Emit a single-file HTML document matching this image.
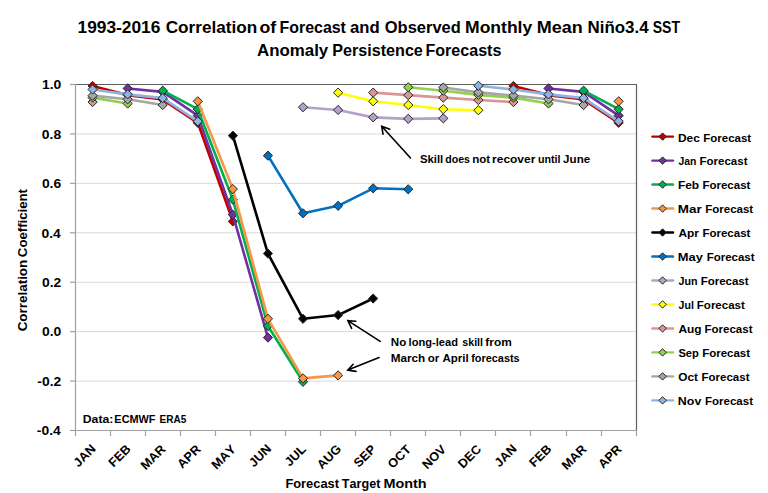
<!DOCTYPE html>
<html><head><meta charset="utf-8"><style>
html,body{margin:0;padding:0;background:#fff;}
svg{display:block;}
text{font-family:"Liberation Sans",sans-serif;font-weight:bold;font-kerning:none;white-space:pre;stroke:none;}
</style></head><body>
<svg width="768" height="493" viewBox="0 0 768 493">
<rect x="0" y="0" width="768" height="493" fill="#fff"/>
<line x1="75.5" y1="133.92857142857142" x2="636.5" y2="133.92857142857142" stroke="#D9D9D9" stroke-width="1"/>
<line x1="75.5" y1="183.35714285714286" x2="636.5" y2="183.35714285714286" stroke="#D9D9D9" stroke-width="1"/>
<line x1="75.5" y1="232.7857142857143" x2="636.5" y2="232.7857142857143" stroke="#D9D9D9" stroke-width="1"/>
<line x1="75.5" y1="282.2142857142857" x2="636.5" y2="282.2142857142857" stroke="#D9D9D9" stroke-width="1"/>
<line x1="75.5" y1="331.64285714285717" x2="636.5" y2="331.64285714285717" stroke="#D9D9D9" stroke-width="1"/>
<line x1="75.5" y1="381.0714285714286" x2="636.5" y2="381.0714285714286" stroke="#D9D9D9" stroke-width="1"/>
<path d="M75.5 84.5H636.5V430.5" fill="none" stroke="#5F5F5F" stroke-width="1.2" stroke-linejoin="round"/>
<line x1="75.5" y1="84.5" x2="75.5" y2="430.5" stroke="#A0A0A0" stroke-width="1.2"/>
<line x1="70.0" y1="430.5" x2="636.5" y2="430.5" stroke="#A0A0A0" stroke-width="1.2"/>
<line x1="70.0" y1="84.5" x2="75.5" y2="84.5" stroke="#A0A0A0" stroke-width="1.2"/>
<line x1="70.0" y1="133.92857142857144" x2="75.5" y2="133.92857142857144" stroke="#A0A0A0" stroke-width="1.2"/>
<line x1="70.0" y1="183.35714285714286" x2="75.5" y2="183.35714285714286" stroke="#A0A0A0" stroke-width="1.2"/>
<line x1="70.0" y1="232.78571428571428" x2="75.5" y2="232.78571428571428" stroke="#A0A0A0" stroke-width="1.2"/>
<line x1="70.0" y1="282.2142857142857" x2="75.5" y2="282.2142857142857" stroke="#A0A0A0" stroke-width="1.2"/>
<line x1="70.0" y1="331.6428571428571" x2="75.5" y2="331.6428571428571" stroke="#A0A0A0" stroke-width="1.2"/>
<line x1="70.0" y1="381.07142857142856" x2="75.5" y2="381.07142857142856" stroke="#A0A0A0" stroke-width="1.2"/>
<line x1="70.0" y1="430.5" x2="75.5" y2="430.5" stroke="#A0A0A0" stroke-width="1.2"/>
<line x1="75.5" y1="430.5" x2="75.5" y2="436.0" stroke="#A0A0A0" stroke-width="1.2"/>
<line x1="110.5" y1="430.5" x2="110.5" y2="436.0" stroke="#A0A0A0" stroke-width="1.2"/>
<line x1="145.5" y1="430.5" x2="145.5" y2="436.0" stroke="#A0A0A0" stroke-width="1.2"/>
<line x1="180.5" y1="430.5" x2="180.5" y2="436.0" stroke="#A0A0A0" stroke-width="1.2"/>
<line x1="215.5" y1="430.5" x2="215.5" y2="436.0" stroke="#A0A0A0" stroke-width="1.2"/>
<line x1="250.5" y1="430.5" x2="250.5" y2="436.0" stroke="#A0A0A0" stroke-width="1.2"/>
<line x1="285.5" y1="430.5" x2="285.5" y2="436.0" stroke="#A0A0A0" stroke-width="1.2"/>
<line x1="320.5" y1="430.5" x2="320.5" y2="436.0" stroke="#A0A0A0" stroke-width="1.2"/>
<line x1="355.5" y1="430.5" x2="355.5" y2="436.0" stroke="#A0A0A0" stroke-width="1.2"/>
<line x1="390.5" y1="430.5" x2="390.5" y2="436.0" stroke="#A0A0A0" stroke-width="1.2"/>
<line x1="425.5" y1="430.5" x2="425.5" y2="436.0" stroke="#A0A0A0" stroke-width="1.2"/>
<line x1="460.5" y1="430.5" x2="460.5" y2="436.0" stroke="#A0A0A0" stroke-width="1.2"/>
<line x1="495.5" y1="430.5" x2="495.5" y2="436.0" stroke="#A0A0A0" stroke-width="1.2"/>
<line x1="530.5" y1="430.5" x2="530.5" y2="436.0" stroke="#A0A0A0" stroke-width="1.2"/>
<line x1="566.5" y1="430.5" x2="566.5" y2="436.0" stroke="#A0A0A0" stroke-width="1.2"/>
<line x1="601.5" y1="430.5" x2="601.5" y2="436.0" stroke="#A0A0A0" stroke-width="1.2"/>
<line x1="636.5" y1="430.5" x2="636.5" y2="436.0" stroke="#A0A0A0" stroke-width="1.2"/>
<polyline points="92.60,85.98 127.67,95.13 162.75,99.58 197.81,122.81 232.88,221.42" fill="none" stroke="#C00000" stroke-width="2.6" stroke-linejoin="round" stroke-linecap="round"/>
<polyline points="513.44,85.98 548.51,95.13 583.59,99.58 618.65,122.81" fill="none" stroke="#C00000" stroke-width="2.6" stroke-linejoin="round" stroke-linecap="round"/>
<path d="M92.60 81.38L97.20 85.98L92.60 90.58L88.00 85.98Z" fill="#C00000" stroke="#262626" stroke-width="1.0"/>
<path d="M127.67 90.53L132.28 95.13L127.67 99.73L123.08 95.13Z" fill="#C00000" stroke="#262626" stroke-width="1.0"/>
<path d="M162.75 94.98L167.34 99.58L162.75 104.18L158.15 99.58Z" fill="#C00000" stroke="#262626" stroke-width="1.0"/>
<path d="M197.81 118.21L202.41 122.81L197.81 127.41L193.22 122.81Z" fill="#C00000" stroke="#262626" stroke-width="1.0"/>
<path d="M232.88 216.82L237.48 221.42L232.88 226.02L228.28 221.42Z" fill="#C00000" stroke="#262626" stroke-width="1.0"/>
<path d="M513.44 81.38L518.04 85.98L513.44 90.58L508.84 85.98Z" fill="#C00000" stroke="#262626" stroke-width="1.0"/>
<path d="M548.51 90.53L553.12 95.13L548.51 99.73L543.91 95.13Z" fill="#C00000" stroke="#262626" stroke-width="1.0"/>
<path d="M583.59 94.98L588.19 99.58L583.59 104.18L578.99 99.58Z" fill="#C00000" stroke="#262626" stroke-width="1.0"/>
<path d="M618.65 118.21L623.25 122.81L618.65 127.41L614.05 122.81Z" fill="#C00000" stroke="#262626" stroke-width="1.0"/>
<polyline points="127.67,88.45 162.75,91.91 197.81,115.64 232.88,214.74 267.95,337.57" fill="none" stroke="#7030A0" stroke-width="2.6" stroke-linejoin="round" stroke-linecap="round"/>
<polyline points="548.51,88.45 583.59,91.91 618.65,115.64" fill="none" stroke="#7030A0" stroke-width="2.6" stroke-linejoin="round" stroke-linecap="round"/>
<path d="M127.67 83.85L132.28 88.45L127.67 93.05L123.08 88.45Z" fill="#7030A0" stroke="#262626" stroke-width="1.0"/>
<path d="M162.75 87.31L167.34 91.91L162.75 96.51L158.15 91.91Z" fill="#7030A0" stroke="#262626" stroke-width="1.0"/>
<path d="M197.81 111.04L202.41 115.64L197.81 120.24L193.22 115.64Z" fill="#7030A0" stroke="#262626" stroke-width="1.0"/>
<path d="M232.88 210.14L237.48 214.74L232.88 219.34L228.28 214.74Z" fill="#7030A0" stroke="#262626" stroke-width="1.0"/>
<path d="M267.95 332.97L272.56 337.57L267.95 342.17L263.35 337.57Z" fill="#7030A0" stroke="#262626" stroke-width="1.0"/>
<path d="M548.51 83.85L553.12 88.45L548.51 93.05L543.91 88.45Z" fill="#7030A0" stroke="#262626" stroke-width="1.0"/>
<path d="M583.59 87.31L588.19 91.91L583.59 96.51L578.99 91.91Z" fill="#7030A0" stroke="#262626" stroke-width="1.0"/>
<path d="M618.65 111.04L623.25 115.64L618.65 120.24L614.05 115.64Z" fill="#7030A0" stroke="#262626" stroke-width="1.0"/>
<polyline points="162.75,90.68 197.81,109.21 232.88,199.67 267.95,325.96 303.02,381.81" fill="none" stroke="#00B050" stroke-width="2.6" stroke-linejoin="round" stroke-linecap="round"/>
<polyline points="583.59,90.68 618.65,109.21" fill="none" stroke="#00B050" stroke-width="2.6" stroke-linejoin="round" stroke-linecap="round"/>
<path d="M162.75 86.08L167.34 90.68L162.75 95.28L158.15 90.68Z" fill="#00B050" stroke="#262626" stroke-width="1.0"/>
<path d="M197.81 104.61L202.41 109.21L197.81 113.81L193.22 109.21Z" fill="#00B050" stroke="#262626" stroke-width="1.0"/>
<path d="M232.88 195.07L237.48 199.67L232.88 204.27L228.28 199.67Z" fill="#00B050" stroke="#262626" stroke-width="1.0"/>
<path d="M267.95 321.36L272.56 325.96L267.95 330.56L263.35 325.96Z" fill="#00B050" stroke="#262626" stroke-width="1.0"/>
<path d="M303.02 377.21L307.62 381.81L303.02 386.41L298.42 381.81Z" fill="#00B050" stroke="#262626" stroke-width="1.0"/>
<path d="M583.59 86.08L588.19 90.68L583.59 95.28L578.99 90.68Z" fill="#00B050" stroke="#262626" stroke-width="1.0"/>
<path d="M618.65 104.61L623.25 109.21L618.65 113.81L614.05 109.21Z" fill="#00B050" stroke="#262626" stroke-width="1.0"/>
<polyline points="197.81,101.31 232.88,189.04 267.95,318.79 303.02,378.35 338.09,375.39" fill="none" stroke="#F79646" stroke-width="2.6" stroke-linejoin="round" stroke-linecap="round"/>
<path d="M197.81 96.71L202.41 101.31L197.81 105.91L193.22 101.31Z" fill="#F79646" stroke="#262626" stroke-width="1.0"/>
<path d="M232.88 184.44L237.48 189.04L232.88 193.64L228.28 189.04Z" fill="#F79646" stroke="#262626" stroke-width="1.0"/>
<path d="M267.95 314.19L272.56 318.79L267.95 323.39L263.35 318.79Z" fill="#F79646" stroke="#262626" stroke-width="1.0"/>
<path d="M303.02 373.75L307.62 378.35L303.02 382.95L298.42 378.35Z" fill="#F79646" stroke="#262626" stroke-width="1.0"/>
<path d="M338.09 370.79L342.69 375.39L338.09 379.99L333.49 375.39Z" fill="#F79646" stroke="#262626" stroke-width="1.0"/>
<path d="M618.65 96.71L623.25 101.31L618.65 105.91L614.05 101.31Z" fill="#F79646" stroke="#262626" stroke-width="1.0"/>
<polyline points="232.88,135.66 267.95,253.55 303.02,318.79 338.09,315.08 373.17,298.53" fill="none" stroke="#000000" stroke-width="2.6" stroke-linejoin="round" stroke-linecap="round"/>
<path d="M232.88 131.06L237.48 135.66L232.88 140.26L228.28 135.66Z" fill="#000000" stroke="#262626" stroke-width="1.0"/>
<path d="M267.95 248.95L272.56 253.55L267.95 258.15L263.35 253.55Z" fill="#000000" stroke="#262626" stroke-width="1.0"/>
<path d="M303.02 314.19L307.62 318.79L303.02 323.39L298.42 318.79Z" fill="#000000" stroke="#262626" stroke-width="1.0"/>
<path d="M338.09 310.48L342.69 315.08L338.09 319.68L333.49 315.08Z" fill="#000000" stroke="#262626" stroke-width="1.0"/>
<path d="M373.17 293.93L377.77 298.53L373.17 303.13L368.56 298.53Z" fill="#000000" stroke="#262626" stroke-width="1.0"/>
<polyline points="267.95,155.68 303.02,213.26 338.09,205.85 373.17,188.30 408.24,189.29" fill="none" stroke="#0070C0" stroke-width="2.6" stroke-linejoin="round" stroke-linecap="round"/>
<path d="M267.95 151.08L272.56 155.68L267.95 160.28L263.35 155.68Z" fill="#0070C0" stroke="#262626" stroke-width="1.0"/>
<path d="M303.02 208.66L307.62 213.26L303.02 217.86L298.42 213.26Z" fill="#0070C0" stroke="#262626" stroke-width="1.0"/>
<path d="M338.09 201.25L342.69 205.85L338.09 210.45L333.49 205.85Z" fill="#0070C0" stroke="#262626" stroke-width="1.0"/>
<path d="M373.17 183.70L377.77 188.30L373.17 192.90L368.56 188.30Z" fill="#0070C0" stroke="#262626" stroke-width="1.0"/>
<path d="M408.24 184.69L412.84 189.29L408.24 193.89L403.63 189.29Z" fill="#0070C0" stroke="#262626" stroke-width="1.0"/>
<polyline points="303.02,107.24 338.09,109.96 373.17,117.37 408.24,118.85 443.31,118.36" fill="none" stroke="#B3A2C7" stroke-width="2.6" stroke-linejoin="round" stroke-linecap="round"/>
<path d="M303.02 102.64L307.62 107.24L303.02 111.84L298.42 107.24Z" fill="#B3A2C7" stroke="#262626" stroke-width="1.0"/>
<path d="M338.09 105.36L342.69 109.96L338.09 114.56L333.49 109.96Z" fill="#B3A2C7" stroke="#262626" stroke-width="1.0"/>
<path d="M373.17 112.77L377.77 117.37L373.17 121.97L368.56 117.37Z" fill="#B3A2C7" stroke="#262626" stroke-width="1.0"/>
<path d="M408.24 114.25L412.84 118.85L408.24 123.45L403.63 118.85Z" fill="#B3A2C7" stroke="#262626" stroke-width="1.0"/>
<path d="M443.31 113.76L447.91 118.36L443.31 122.96L438.70 118.36Z" fill="#B3A2C7" stroke="#262626" stroke-width="1.0"/>
<polyline points="338.09,92.66 373.17,101.31 408.24,105.01 443.31,109.21 478.38,110.20" fill="none" stroke="#FFFF00" stroke-width="2.6" stroke-linejoin="round" stroke-linecap="round"/>
<path d="M338.09 88.06L342.69 92.66L338.09 97.26L333.49 92.66Z" fill="#FFFF00" stroke="#262626" stroke-width="1.0"/>
<path d="M373.17 96.71L377.77 101.31L373.17 105.91L368.56 101.31Z" fill="#FFFF00" stroke="#262626" stroke-width="1.0"/>
<path d="M408.24 100.41L412.84 105.01L408.24 109.61L403.63 105.01Z" fill="#FFFF00" stroke="#262626" stroke-width="1.0"/>
<path d="M443.31 104.61L447.91 109.21L443.31 113.81L438.70 109.21Z" fill="#FFFF00" stroke="#262626" stroke-width="1.0"/>
<path d="M478.38 105.60L482.98 110.20L478.38 114.80L473.77 110.20Z" fill="#FFFF00" stroke="#262626" stroke-width="1.0"/>
<polyline points="373.17,92.66 408.24,95.13 443.31,97.60 478.38,100.07 513.44,102.05" fill="none" stroke="#D99694" stroke-width="2.6" stroke-linejoin="round" stroke-linecap="round"/>
<path d="M373.17 88.06L377.77 92.66L373.17 97.26L368.56 92.66Z" fill="#D99694" stroke="#262626" stroke-width="1.0"/>
<path d="M408.24 90.53L412.84 95.13L408.24 99.73L403.63 95.13Z" fill="#D99694" stroke="#262626" stroke-width="1.0"/>
<path d="M443.31 93.00L447.91 97.60L443.31 102.20L438.70 97.60Z" fill="#D99694" stroke="#262626" stroke-width="1.0"/>
<path d="M478.38 95.47L482.98 100.07L478.38 104.67L473.77 100.07Z" fill="#D99694" stroke="#262626" stroke-width="1.0"/>
<path d="M513.44 97.45L518.04 102.05L513.44 106.65L508.84 102.05Z" fill="#D99694" stroke="#262626" stroke-width="1.0"/>
<path d="M92.60 97.45L97.20 102.05L92.60 106.65L88.00 102.05Z" fill="#D99694" stroke="#262626" stroke-width="1.0"/>
<polyline points="408.24,87.22 443.31,90.68 478.38,94.88 513.44,97.60 548.51,103.53" fill="none" stroke="#92D050" stroke-width="2.6" stroke-linejoin="round" stroke-linecap="round"/>
<polyline points="92.60,97.60 127.67,103.53" fill="none" stroke="#92D050" stroke-width="2.6" stroke-linejoin="round" stroke-linecap="round"/>
<path d="M408.24 82.62L412.84 87.22L408.24 91.82L403.63 87.22Z" fill="#92D050" stroke="#262626" stroke-width="1.0"/>
<path d="M443.31 86.08L447.91 90.68L443.31 95.28L438.70 90.68Z" fill="#92D050" stroke="#262626" stroke-width="1.0"/>
<path d="M478.38 90.28L482.98 94.88L478.38 99.48L473.77 94.88Z" fill="#92D050" stroke="#262626" stroke-width="1.0"/>
<path d="M513.44 93.00L518.04 97.60L513.44 102.20L508.84 97.60Z" fill="#92D050" stroke="#262626" stroke-width="1.0"/>
<path d="M548.51 98.93L553.12 103.53L548.51 108.13L543.91 103.53Z" fill="#92D050" stroke="#262626" stroke-width="1.0"/>
<path d="M92.60 93.00L97.20 97.60L92.60 102.20L88.00 97.60Z" fill="#92D050" stroke="#262626" stroke-width="1.0"/>
<path d="M127.67 98.93L132.28 103.53L127.67 108.13L123.08 103.53Z" fill="#92D050" stroke="#262626" stroke-width="1.0"/>
<polyline points="443.31,87.47 478.38,92.41 513.44,95.62 548.51,99.33 583.59,105.01" fill="none" stroke="#A6A6A6" stroke-width="2.6" stroke-linejoin="round" stroke-linecap="round"/>
<polyline points="92.60,95.62 127.67,99.33 162.75,105.01" fill="none" stroke="#A6A6A6" stroke-width="2.6" stroke-linejoin="round" stroke-linecap="round"/>
<path d="M443.31 82.87L447.91 87.47L443.31 92.07L438.70 87.47Z" fill="#A6A6A6" stroke="#262626" stroke-width="1.0"/>
<path d="M478.38 87.81L482.98 92.41L478.38 97.01L473.77 92.41Z" fill="#A6A6A6" stroke="#262626" stroke-width="1.0"/>
<path d="M513.44 91.02L518.04 95.62L513.44 100.22L508.84 95.62Z" fill="#A6A6A6" stroke="#262626" stroke-width="1.0"/>
<path d="M548.51 94.73L553.12 99.33L548.51 103.93L543.91 99.33Z" fill="#A6A6A6" stroke="#262626" stroke-width="1.0"/>
<path d="M583.59 100.41L588.19 105.01L583.59 109.61L578.99 105.01Z" fill="#A6A6A6" stroke="#262626" stroke-width="1.0"/>
<path d="M92.60 91.02L97.20 95.62L92.60 100.22L88.00 95.62Z" fill="#A6A6A6" stroke="#262626" stroke-width="1.0"/>
<path d="M127.67 94.73L132.28 99.33L127.67 103.93L123.08 99.33Z" fill="#A6A6A6" stroke="#262626" stroke-width="1.0"/>
<path d="M162.75 100.41L167.34 105.01L162.75 109.61L158.15 105.01Z" fill="#A6A6A6" stroke="#262626" stroke-width="1.0"/>
<polyline points="478.38,85.74 513.44,89.44 548.51,94.39 583.59,98.09 618.65,121.32" fill="none" stroke="#8EB4E3" stroke-width="2.6" stroke-linejoin="round" stroke-linecap="round"/>
<polyline points="92.60,89.44 127.67,94.39 162.75,98.09 197.81,121.32" fill="none" stroke="#8EB4E3" stroke-width="2.6" stroke-linejoin="round" stroke-linecap="round"/>
<path d="M478.38 81.14L482.98 85.74L478.38 90.34L473.77 85.74Z" fill="#8EB4E3" stroke="#262626" stroke-width="1.0"/>
<path d="M513.44 84.84L518.04 89.44L513.44 94.04L508.84 89.44Z" fill="#8EB4E3" stroke="#262626" stroke-width="1.0"/>
<path d="M548.51 89.79L553.12 94.39L548.51 98.99L543.91 94.39Z" fill="#8EB4E3" stroke="#262626" stroke-width="1.0"/>
<path d="M583.59 93.49L588.19 98.09L583.59 102.69L578.99 98.09Z" fill="#8EB4E3" stroke="#262626" stroke-width="1.0"/>
<path d="M618.65 116.72L623.25 121.32L618.65 125.92L614.05 121.32Z" fill="#8EB4E3" stroke="#262626" stroke-width="1.0"/>
<path d="M92.60 84.84L97.20 89.44L92.60 94.04L88.00 89.44Z" fill="#8EB4E3" stroke="#262626" stroke-width="1.0"/>
<path d="M127.67 89.79L132.28 94.39L127.67 98.99L123.08 94.39Z" fill="#8EB4E3" stroke="#262626" stroke-width="1.0"/>
<path d="M162.75 93.49L167.34 98.09L162.75 102.69L158.15 98.09Z" fill="#8EB4E3" stroke="#262626" stroke-width="1.0"/>
<path d="M197.81 116.72L202.41 121.32L197.81 125.92L193.22 121.32Z" fill="#8EB4E3" stroke="#262626" stroke-width="1.0"/>
<text transform="translate(77.51,32.50) scale(1.0271,1)" font-size="16.86" fill="#000" >1993-2016</text>
<text transform="translate(165.70,32.50) scale(1.0182,1)" font-size="16.86" fill="#000" >Correlation</text>
<text transform="translate(259.41,32.50) scale(1.0531,1)" font-size="16.86" fill="#000" >of</text>
<text transform="translate(279.53,32.50) scale(0.9456,1)" font-size="16.86" fill="#000" >Forecast</text>
<text transform="translate(350.01,32.50) scale(0.9905,1)" font-size="16.86" fill="#000" >and</text>
<text transform="translate(384.82,32.50) scale(0.9766,1)" font-size="16.86" fill="#000" >Observed</text>
<text transform="translate(465.03,32.50) scale(1.0410,1)" font-size="16.86" fill="#000" >Monthly</text>
<text transform="translate(536.70,32.50) scale(1.0678,1)" font-size="16.86" fill="#000" >Mean</text>
<text transform="translate(587.47,32.50) scale(1.0037,1)" font-size="16.86" fill="#000" >Niño3.4</text>
<text transform="translate(652.70,32.50) scale(0.8311,1)" font-size="16.86" fill="#000" >SST</text>
<text transform="translate(256.98,55.80) scale(1.0015,1)" font-size="16.86" fill="#000" >Anomaly</text>
<text transform="translate(332.22,55.80) scale(0.9574,1)" font-size="16.86" fill="#000" >Persistence</text>
<text transform="translate(425.42,55.80) scale(0.9545,1)" font-size="16.86" fill="#000" >Forecasts</text>
<text transform="translate(41.98,89.30) scale(1.11,1)" font-size="12.50">1.0</text>
<text transform="translate(41.84,138.73) scale(1.11,1)" font-size="12.50">0.8</text>
<text transform="translate(41.91,188.16) scale(1.11,1)" font-size="12.50">0.6</text>
<text transform="translate(41.49,237.59) scale(1.11,1)" font-size="12.50">0.4</text>
<text transform="translate(41.97,287.01) scale(1.11,1)" font-size="12.50">0.2</text>
<text transform="translate(41.98,336.44) scale(1.11,1)" font-size="12.50">0.0</text>
<text transform="translate(37.35,385.87) scale(1.11,1)" font-size="12.50">-0.2</text>
<text transform="translate(36.87,435.30) scale(1.11,1)" font-size="12.50">-0.4</text>
<text transform="translate(96.00,450.20) rotate(-45) translate(-24.65,0) scale(1.0200,1)" font-size="12.50" fill="#000">JAN</text>
<text transform="translate(131.07,450.20) rotate(-45) translate(-24.92,0) scale(1.0200,1)" font-size="12.50" fill="#000">FEB</text>
<text transform="translate(166.15,450.20) rotate(-45) translate(-28.78,0) scale(1.0200,1)" font-size="12.50" fill="#000">MAR</text>
<text transform="translate(201.22,450.20) rotate(-45) translate(-26.66,0) scale(1.0200,1)" font-size="12.50" fill="#000">APR</text>
<text transform="translate(236.28,450.20) rotate(-45) translate(-28.13,0) scale(1.0200,1)" font-size="12.50" fill="#000">MAY</text>
<text transform="translate(271.35,450.20) rotate(-45) translate(-24.65,0) scale(1.0200,1)" font-size="12.50" fill="#000">JUN</text>
<text transform="translate(306.42,450.20) rotate(-45) translate(-23.69,0) scale(1.0200,1)" font-size="12.50" fill="#000">JUL</text>
<text transform="translate(341.49,450.20) rotate(-45) translate(-27.54,0) scale(1.0200,1)" font-size="12.50" fill="#000">AUG</text>
<text transform="translate(376.56,450.20) rotate(-45) translate(-25.08,0) scale(1.0200,1)" font-size="12.50" fill="#000">SEP</text>
<text transform="translate(411.63,450.20) rotate(-45) translate(-26.78,0) scale(1.0200,1)" font-size="12.50" fill="#000">OCT</text>
<text transform="translate(446.70,450.20) rotate(-45) translate(-27.54,0) scale(1.0200,1)" font-size="12.50" fill="#000">NOV</text>
<text transform="translate(481.77,450.20) rotate(-45) translate(-26.57,0) scale(1.0200,1)" font-size="12.50" fill="#000">DEC</text>
<text transform="translate(516.84,450.20) rotate(-45) translate(-24.65,0) scale(1.0200,1)" font-size="12.50" fill="#000">JAN</text>
<text transform="translate(551.91,450.20) rotate(-45) translate(-24.92,0) scale(1.0200,1)" font-size="12.50" fill="#000">FEB</text>
<text transform="translate(586.99,450.20) rotate(-45) translate(-28.78,0) scale(1.0200,1)" font-size="12.50" fill="#000">MAR</text>
<text transform="translate(622.05,450.20) rotate(-45) translate(-26.66,0) scale(1.0200,1)" font-size="12.50" fill="#000">APR</text>
<text transform="translate(285.39,488.00) scale(0.9953,1)" font-size="12.94" fill="#000" >Forecast</text>
<text transform="translate(341.86,488.00) scale(0.9737,1)" font-size="12.94" fill="#000" >Target</text>
<text transform="translate(383.43,488.00) scale(1.1152,1)" font-size="12.94" fill="#000" >Month</text>
<text transform="translate(26.7,330.8) rotate(-90) translate(-0.55,0) scale(1.1007,1)" font-size="12.21">Correlation</text>
<text transform="translate(26.7,256.6) rotate(-90) translate(-0.54,0) scale(1.0811,1)" font-size="12.21">Coefficient</text>
<text transform="translate(419.97,163.00) scale(1.0406,1)" font-size="10.90" fill="#000" >Skill</text>
<text transform="translate(445.27,163.00) scale(0.9695,1)" font-size="10.90" fill="#000" >does</text>
<text transform="translate(472.24,163.00) scale(1.0561,1)" font-size="10.90" fill="#000" >not</text>
<text transform="translate(492.11,163.00) scale(1.0984,1)" font-size="10.90" fill="#000" >recover</text>
<text transform="translate(538.04,163.00) scale(0.9788,1)" font-size="10.90" fill="#000" >until</text>
<text transform="translate(563.12,163.00) scale(1.0640,1)" font-size="10.90" fill="#000" >June</text>
<text transform="translate(390.83,345.80) scale(1.0616,1)" font-size="10.90" fill="#000" >No</text>
<text transform="translate(408.62,345.80) scale(1.0198,1)" font-size="10.90" fill="#000" >long-lead</text>
<text transform="translate(462.33,345.80) scale(0.9772,1)" font-size="10.90" fill="#000" >skill</text>
<text transform="translate(485.30,345.80) scale(1.0915,1)" font-size="10.90" fill="#000" >from</text>
<text transform="translate(390.82,361.50) scale(1.0716,1)" font-size="10.90" fill="#000" >March</text>
<text transform="translate(427.65,361.50) scale(1.0572,1)" font-size="10.90" fill="#000" >or</text>
<text transform="translate(442.41,361.50) scale(1.0551,1)" font-size="10.90" fill="#000" >April</text>
<text transform="translate(471.21,361.50) scale(1.0012,1)" font-size="10.90" fill="#000" >forecasts</text>
<text transform="translate(82.78,422.70) scale(1.1224,1)" font-size="10.90" fill="#000" >Data:</text>
<text transform="translate(114.37,422.70) scale(1.0014,1)" font-size="10.90" fill="#000" >ECMWF</text>
<text transform="translate(159.53,422.70) scale(0.9199,1)" font-size="10.90" fill="#000" >ERA5</text>
<path d="M410.5 158.0L381.7 126.3M389.8 129.3L381.7 126.3L383.0 134.2" fill="none" stroke="#000" stroke-width="1.6" stroke-linecap="round" stroke-linejoin="miter"/>
<path d="M380.2 341.4L347.9 320.7M355.8 321.2L347.9 320.7L351.6 328.3" fill="none" stroke="#000" stroke-width="1.6" stroke-linecap="round" stroke-linejoin="miter"/>
<path d="M379.1 357.6L347.8 370.1M353.1 364.3L347.8 370.1L356.0 371.4" fill="none" stroke="#000" stroke-width="1.6" stroke-linecap="round" stroke-linejoin="miter"/>
<line x1="652.4" y1="136.60" x2="673.0" y2="136.60" stroke="#C00000" stroke-width="2.4" stroke-linecap="round"/>
<path d="M662.60 132.90L666.30 136.60L662.60 140.30L658.90 136.60Z" fill="#C00000" stroke="#262626" stroke-width="1.0"/>
<text transform="translate(677.90,141.50) scale(1.0421,1)" font-size="11.48" fill="#000" >Dec</text>
<text transform="translate(703.23,141.50) scale(1.0030,1)" font-size="11.48" fill="#000" >Forecast</text>
<line x1="652.4" y1="160.58" x2="673.0" y2="160.58" stroke="#7030A0" stroke-width="2.4" stroke-linecap="round"/>
<path d="M662.60 156.88L666.30 160.58L662.60 164.28L658.90 160.58Z" fill="#7030A0" stroke="#262626" stroke-width="1.0"/>
<text transform="translate(678.54,165.48) scale(0.9047,1)" font-size="11.48" fill="#000" >Jan</text>
<text transform="translate(699.53,165.48) scale(1.0030,1)" font-size="11.48" fill="#000" >Forecast</text>
<line x1="652.4" y1="184.56" x2="673.0" y2="184.56" stroke="#00B050" stroke-width="2.4" stroke-linecap="round"/>
<path d="M662.60 180.86L666.30 184.56L662.60 188.26L658.90 184.56Z" fill="#00B050" stroke="#262626" stroke-width="1.0"/>
<text transform="translate(677.90,189.46) scale(1.0430,1)" font-size="11.48" fill="#000" >Feb</text>
<text transform="translate(702.43,189.46) scale(1.0030,1)" font-size="11.48" fill="#000" >Forecast</text>
<line x1="652.4" y1="208.54" x2="673.0" y2="208.54" stroke="#F79646" stroke-width="2.4" stroke-linecap="round"/>
<path d="M662.60 204.84L666.30 208.54L662.60 212.24L658.90 208.54Z" fill="#F79646" stroke="#262626" stroke-width="1.0"/>
<text transform="translate(677.80,213.44) scale(1.1705,1)" font-size="11.48" fill="#000" >Mar</text>
<text transform="translate(705.23,213.44) scale(1.0030,1)" font-size="11.48" fill="#000" >Forecast</text>
<line x1="652.4" y1="232.52" x2="673.0" y2="232.52" stroke="#000000" stroke-width="2.4" stroke-linecap="round"/>
<path d="M662.60 228.82L666.30 232.52L662.60 236.22L658.90 232.52Z" fill="#000000" stroke="#262626" stroke-width="1.0"/>
<text transform="translate(678.40,237.42) scale(1.0354,1)" font-size="11.48" fill="#000" >Apr</text>
<text transform="translate(702.43,237.42) scale(1.0030,1)" font-size="11.48" fill="#000" >Forecast</text>
<line x1="652.4" y1="256.50" x2="673.0" y2="256.50" stroke="#0070C0" stroke-width="2.4" stroke-linecap="round"/>
<path d="M662.60 252.80L666.30 256.50L662.60 260.20L658.90 256.50Z" fill="#0070C0" stroke="#262626" stroke-width="1.0"/>
<text transform="translate(677.84,261.40) scale(1.1252,1)" font-size="11.48" fill="#000" >May</text>
<text transform="translate(706.63,261.40) scale(1.0030,1)" font-size="11.48" fill="#000" >Forecast</text>
<line x1="652.4" y1="280.48" x2="673.0" y2="280.48" stroke="#B3A2C7" stroke-width="2.4" stroke-linecap="round"/>
<path d="M662.60 276.78L666.30 280.48L662.60 284.18L658.90 280.48Z" fill="#B3A2C7" stroke="#262626" stroke-width="1.0"/>
<text transform="translate(678.54,285.38) scale(0.9320,1)" font-size="11.48" fill="#000" >Jun</text>
<text transform="translate(700.63,285.38) scale(1.0030,1)" font-size="11.48" fill="#000" >Forecast</text>
<line x1="652.4" y1="304.46" x2="673.0" y2="304.46" stroke="#FFFF00" stroke-width="2.4" stroke-linecap="round"/>
<path d="M662.60 300.76L666.30 304.46L662.60 308.16L658.90 304.46Z" fill="#FFFF00" stroke="#262626" stroke-width="1.0"/>
<text transform="translate(678.54,309.36) scale(0.9229,1)" font-size="11.48" fill="#000" >Jul</text>
<text transform="translate(696.83,309.36) scale(1.0030,1)" font-size="11.48" fill="#000" >Forecast</text>
<line x1="652.4" y1="328.44" x2="673.0" y2="328.44" stroke="#D99694" stroke-width="2.4" stroke-linecap="round"/>
<path d="M662.60 324.74L666.30 328.44L662.60 332.14L658.90 328.44Z" fill="#D99694" stroke="#262626" stroke-width="1.0"/>
<text transform="translate(678.40,333.34) scale(1.0392,1)" font-size="11.48" fill="#000" >Aug</text>
<text transform="translate(704.53,333.34) scale(1.0030,1)" font-size="11.48" fill="#000" >Forecast</text>
<line x1="652.4" y1="352.42" x2="673.0" y2="352.42" stroke="#92D050" stroke-width="2.4" stroke-linecap="round"/>
<path d="M662.60 348.72L666.30 352.42L662.60 356.12L658.90 352.42Z" fill="#92D050" stroke="#262626" stroke-width="1.0"/>
<text transform="translate(678.38,357.32) scale(0.9725,1)" font-size="11.48" fill="#000" >Sep</text>
<text transform="translate(702.13,357.32) scale(1.0030,1)" font-size="11.48" fill="#000" >Forecast</text>
<line x1="652.4" y1="376.40" x2="673.0" y2="376.40" stroke="#A6A6A6" stroke-width="2.4" stroke-linecap="round"/>
<path d="M662.60 372.70L666.30 376.40L662.60 380.10L658.90 376.40Z" fill="#A6A6A6" stroke="#262626" stroke-width="1.0"/>
<text transform="translate(678.21,381.30) scale(1.0307,1)" font-size="11.48" fill="#000" >Oct</text>
<text transform="translate(701.53,381.30) scale(1.0030,1)" font-size="11.48" fill="#000" >Forecast</text>
<line x1="652.4" y1="400.38" x2="673.0" y2="400.38" stroke="#8EB4E3" stroke-width="2.4" stroke-linecap="round"/>
<path d="M662.60 396.68L666.30 400.38L662.60 404.08L658.90 400.38Z" fill="#8EB4E3" stroke="#262626" stroke-width="1.0"/>
<text transform="translate(677.87,405.28) scale(1.0827,1)" font-size="11.48" fill="#000" >Nov</text>
<text transform="translate(705.03,405.28) scale(1.0030,1)" font-size="11.48" fill="#000" >Forecast</text>
</svg>
</body></html>
